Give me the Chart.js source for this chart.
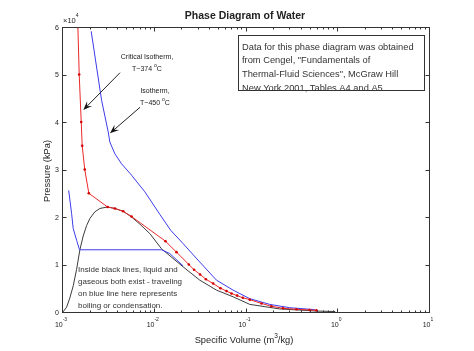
<!DOCTYPE html>
<html>
<head>
<meta charset="utf-8">
<script src="https://cdn.jsdelivr.net/npm/chart.js@4"></script>
<style>
html,body{margin:0;padding:0;background:#fff;}
canvas{display:block;}
</style>
</head>
<body>
<canvas id="mycanvas" width="474" height="351"></canvas>
<script>
// specific volume (m3/kg) and pressure (x10^4 kPa)
var critV = [0.00149,0.00154,0.00162,0.00166,0.00177,0.00196,0.00314,0.00377,0.00464,0.00573,0.01344,0.0177,0.0241,0.0275,0.0320,0.0370,0.0444,0.0534,0.0621,0.0704,0.0810,0.0935,0.1113,0.1494,0.1919,0.2568,0.3594,0.5012,0.593];
var critP = [6.0,5.0,4.0,3.5,3.0,2.5,2.21,2.18,2.12,2.01,1.49,1.26,1.0,0.89,0.79,0.69,0.6,0.5,0.44,0.39,0.345,0.30,0.26,0.18,0.12,0.078,0.057,0.042,0.035];

var iso450V = [0.00208,0.00270,0.00319,0.00332,0.00377,0.00446,0.00573,0.0080,0.0117,0.0153,0.0209,0.0318,0.0483,0.0733,0.1114,0.1839,0.3038,0.569];
var iso450P = [5.91,4.46,3.79,3.58,3.33,3.12,2.88,2.53,2.05,1.72,1.44,1.05,0.67,0.46,0.28,0.16,0.09,0.05];

var isoLowV = [0.001183,0.001273,0.001324,0.001443,0.001551,0.01216,0.01498,0.02091];
var isoLowP = [2.56,2.07,1.76,1.51,1.31,1.31,1.23,0.97];

var domeV = [0.001023,0.001122,0.001219,0.001325,0.001443,0.001567,0.001702,0.001855,0.002014,0.002284,0.00259,0.003126,0.003769,0.004642,0.005731,0.007058,0.009068,0.01216,0.02091,0.03178,0.04832,0.07328,0.1114,0.2363,0.593,0.95];
var domeP = [0.0,0.1,0.3,0.55,0.9,1.31,1.6,1.82,1.97,2.11,2.18,2.21,2.18,2.12,2.0,1.85,1.65,1.33,0.95,0.67,0.46,0.32,0.16,0.065,0.02,0.01];

var xTicks = [0.001,0.01,0.1,1,10];
var xTickExp = ['-3','-2','-1','0','1'];
var yTicks = [0,1,2,3,4,5,6];

var FONT = '"Liberation Sans", Arial, Helvetica, sans-serif';

function pts(v,p){
  var out=[];
  for(var i=0;i<v.length;i++) out.push({x:v[i],y:p[i]});
  return out;
}

// draw text made of runs (for superscripts)
function runs(ctx, parts, x, y, align){
  var w=0;
  parts.forEach(function(p){ ctx.font=(p.b?'bold ':'')+p.s+'px '+FONT; p.w=ctx.measureText(p.t).width; w+=p.w; });
  var sx = align==='center' ? x-w/2 : (align==='right' ? x-w : x);
  ctx.textAlign='left'; ctx.textBaseline='middle';
  parts.forEach(function(p){
    ctx.font=(p.b?'bold ':'')+p.s+'px '+FONT;
    ctx.fillText(p.t, sx, y+(p.dy||0));
    sx+=p.w;
  });
}

function arrow(ctx,x1,y1,x2,y2){
  var a=Math.atan2(y2-y1,x2-x1), c=Math.cos(a), s=Math.sin(a), L=9, W=3.5;
  ctx.beginPath(); ctx.moveTo(x1,y1); ctx.lineTo(x2-c*5,y2-s*5); ctx.stroke();
  var bx=x2-c*L, by=y2-s*L;
  ctx.beginPath();
  ctx.moveTo(x2,y2);
  ctx.lineTo(bx-s*W, by+c*W);
  ctx.lineTo(x2-c*L*0.6, y2-s*L*0.6);
  ctx.lineTo(bx+s*W, by-c*W);
  ctx.closePath(); ctx.fill();
}

var frame = {
  id:'frame',
  afterDraw:function(chart){
    var ctx=chart.ctx, a=chart.chartArea, xs=chart.scales.x, ys=chart.scales.y;
    var L=Math.round(a.left)+0.5, R=Math.round(a.right)+0.5, T=Math.round(a.top)+0.5, B=Math.round(a.bottom)+0.5;
    ctx.save();
    ctx.strokeStyle='#333'; ctx.lineWidth=1;
    ctx.strokeRect(L,T,R-L,B-T);

    // log ticks, top and bottom
    ctx.beginPath();
    for(var d=-3; d<=1; d++){
      for(var m=1;m<=9;m++){
        if(d===1 && m>1) break;
        var px=Math.round(xs.getPixelForValue(m*Math.pow(10,d)))+0.5;
        var len = m===1 ? 4 : 2;
        ctx.moveTo(px,B); ctx.lineTo(px,B-len);
        ctx.moveTo(px,T); ctx.lineTo(px,T+len);
      }
    }
    yTicks.forEach(function(v){
      var py=Math.round(ys.getPixelForValue(v))+0.5;
      ctx.moveTo(L,py); ctx.lineTo(L+4,py);
      ctx.moveTo(R,py); ctx.lineTo(R-4,py);
    });
    ctx.stroke();

    ctx.fillStyle='#222';
    // x tick labels
    xTicks.forEach(function(v,i){
      var px=xs.getPixelForValue(v);
      runs(ctx,[{t:'10',s:7,dy:0},{t:xTickExp[i],s:5,dy:-5}],px-1,325,'center');
    });
    // y tick labels
    yTicks.forEach(function(v){
      var py=ys.getPixelForValue(v);
      ctx.font='7px '+FONT; ctx.textAlign='right'; ctx.textBaseline='middle';
      ctx.fillText(String(v),59,py+1);
    });
    runs(ctx,[{t:'\u00d710',s:7.5},{t:'4',s:5,dy:-5}],63,21,'left');

    // title and axis labels
    runs(ctx,[{t:'Phase Diagram of Water',s:10.5,b:true}],245,16,'center');
    runs(ctx,[{t:'Specific Volume (m',s:9.3},{t:'3',s:6.5,dy:-4},{t:'/kg)',s:9.3}],244,340,'center');
    ctx.save();
    ctx.translate(47,171); ctx.rotate(-Math.PI/2);
    runs(ctx,[{t:'Pressure (kPa)',s:9.3}],0,0,'center');
    ctx.restore();

    // annotations
    runs(ctx,[{t:'Critical Isotherm,',s:7}],147,57,'center');
    runs(ctx,[{t:'T~374 ',s:7},{t:'o',s:5,dy:-3},{t:'C',s:7}],147,69,'center');
    runs(ctx,[{t:'Isotherm,',s:7}],155,91,'center');
    runs(ctx,[{t:'T~450 ',s:7},{t:'o',s:5,dy:-3},{t:'C',s:7}],155,103,'center');
    ctx.strokeStyle='#222'; ctx.fillStyle='#111';
    arrow(ctx,120,72.7,83.3,110);
    arrow(ctx,140,107.3,110,133.3);

    // source box
    ctx.fillStyle='#333';
    var box=['Data for this phase diagram was obtained','from Cengel, "Fundamentals of','Thermal-Fluid Sciences", McGraw Hill','New York 2001, Tables A4 and A5.'];
    box.forEach(function(s,i){ runs(ctx,[{t:s,s:9.3}],242,47+i*13.7,'left'); });
    ctx.strokeStyle='#333';
    ctx.strokeRect(238.5,35.5,186,55);

    var note=['Inside black lines, liquid and','gaseous both exist - traveling','on blue line here represents','boiling or condensation.'];
    note.forEach(function(s,i){ runs(ctx,[{t:s,s:8},], 78,270+i*11.8,'left'); });
    ctx.restore();
  }
};

var ctx=document.getElementById('mycanvas');
var chart=new Chart(ctx,{
  type:'scatter',
  data:{
    datasets:[
      {label:'Critical isotherm', data:pts(critV,critP), showLine:true, borderColor:'rgb(235,40,40)', borderWidth:1,
       pointRadius:1.3, pointBackgroundColor:'rgb(210,0,0)', pointBorderColor:'rgb(210,0,0)', pointBorderWidth:0},
      {label:'Isotherm 450', data:pts(iso450V,iso450P), showLine:true, borderColor:'rgb(60,60,235)', borderWidth:1, pointRadius:0},
      {label:'Isotherm', data:pts(isoLowV,isoLowP), showLine:true, borderColor:'rgb(60,60,235)', borderWidth:1, pointRadius:0},
      {label:'Saturation', data:pts(domeV,domeP), showLine:true, borderColor:'rgb(60,60,60)', borderWidth:1, pointRadius:0}
    ]
  },
  options:{
    responsive:false,
    animation:false,
    devicePixelRatio:1,
    layout:{padding:{left:62,right:45,top:27,bottom:39}},
    plugins:{legend:{display:false},tooltip:{enabled:false}},
    scales:{
      x:{type:'logarithmic',min:0.001,max:10,display:false},
      y:{type:'linear',min:0,max:6,display:false}
    },
    elements:{line:{tension:0}}
  },
  plugins:[frame]
});
</script>
</body>
</html>
